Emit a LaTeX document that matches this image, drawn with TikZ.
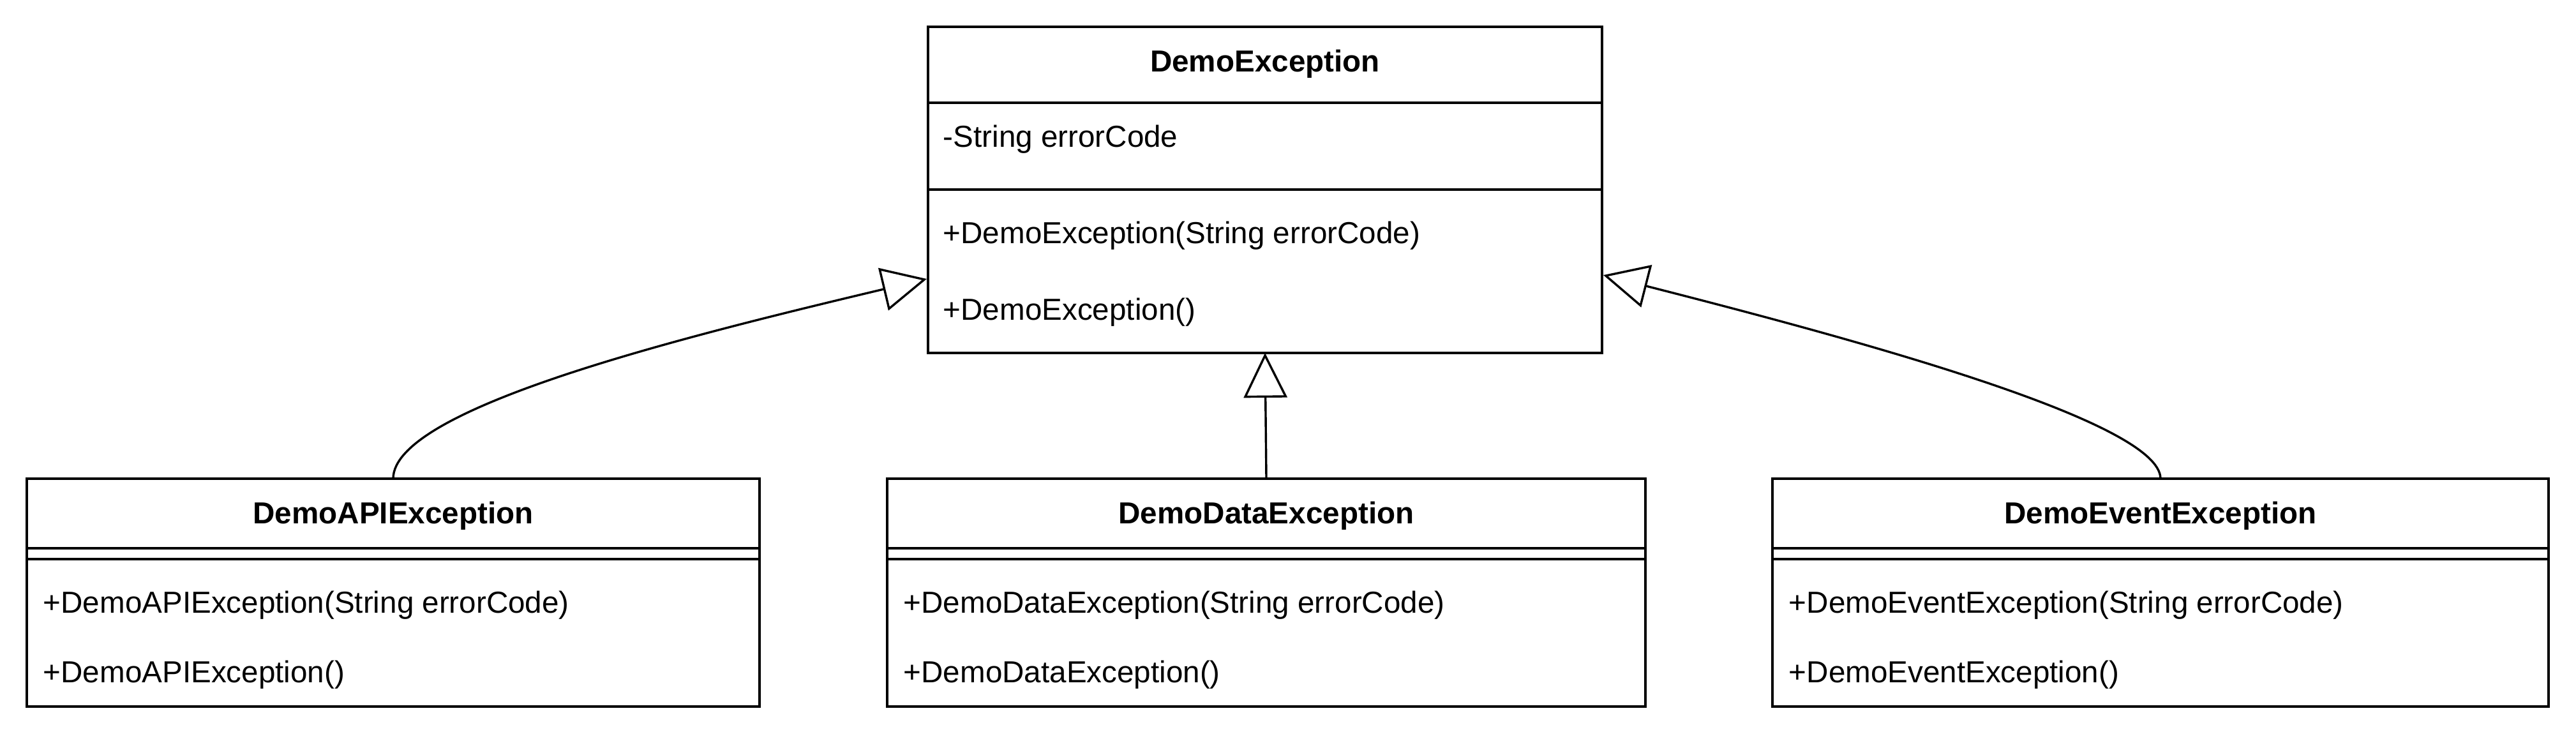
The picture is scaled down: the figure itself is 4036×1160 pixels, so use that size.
\documentclass[tikz,border=0pt]{standalone}
\usepackage{fontspec}
\setmainfont{Liberation Sans}
\usetikzlibrary{arrows.meta}

\tikzset{
  classbox/.style={draw, line width=1pt, inner sep=0pt, outer sep=0pt, anchor=north west},
  classname/.style={font=\fontsize{11.9pt}{14pt}\selectfont\bfseries, anchor=base, inner sep=0pt},
  member/.style={anchor=base west, inner sep=0pt},
  extends/.style={line width=0.85pt, -{Triangle[open, length=17.5pt, width=17pt]}},
}

\begin{document}
\begin{tikzpicture}[x=0.25pt, y=-0.25pt, font=\fontsize{11.9pt}{14pt}\selectfont]
  \useasboundingbox (0,0) rectangle (4036,1160);
  % base class
  \node[classbox, minimum width=264pt, minimum height=127.75pt] (exc) at (1454,42) {};
  \draw[line width=1pt] (1454,161) -- ++(1056,0) (1454,297) -- ++(1056,0);
  \node[classname] (exc-title) at (1982,112) {DemoException};
  \node[member] (exc-attr) at (1477,230) {-String errorCode};
  \node[member] (exc-m1) at (1477,381) {+DemoException(String errorCode)};
  \node[member] (exc-m2) at (1477,501) {+DemoException()};
  % sub classes
  \foreach \name/\cls/\x/\w in {api/API/42/1148, data/Data/1390/1188, event/Event/2777/1216} {
    \node[classbox, minimum width=\w*0.25pt, minimum height=89.25pt] (\name) at (\x,750) {};
    \draw[line width=1pt] (\x,859) -- ++(\w,0) (\x,876) -- ++(\w,0);
    \node[classname] (\name-title) at (\x+\w/2,820) {Demo\cls Exception};
    \node[member] (\name-m1) at (\x+25,960) {+Demo\cls Exception(String errorCode)};
    \node[member] (\name-m2) at (\x+25,1069) {+Demo\cls Exception()};
  }
  \coordinate (apiIn) at (1452,437);
  \coordinate (eventIn) at (2512,431);
  \draw[extends] (api.north) .. controls +(0,-110) and +(-387,92) .. (apiIn);
  \draw[extends] (data.north) -- (exc.south);
  \draw[extends] (event.north) .. controls +(0,-90) and +(388,99) .. (eventIn);
\end{tikzpicture}
\end{document}
